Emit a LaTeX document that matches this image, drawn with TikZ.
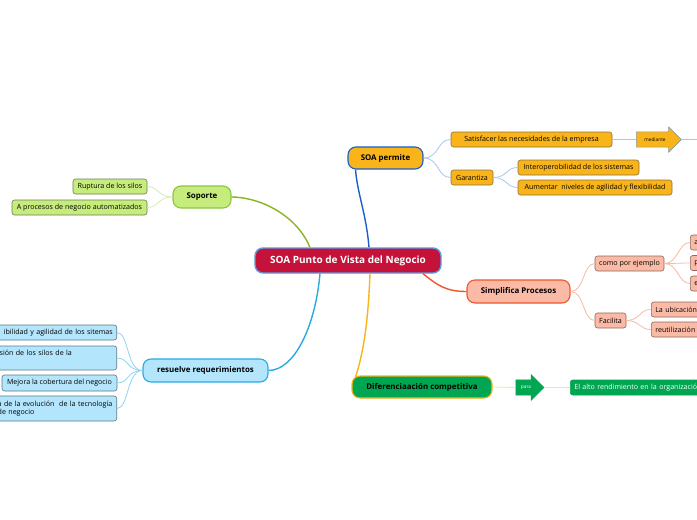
\documentclass[tikz,border=0pt]{standalone}
\usepackage{fontspec}
\setmainfont{Open Sans}
\usetikzlibrary{shapes.arrows}
\definecolor{crim}{HTML}{C5123A}
\definecolor{cblue}{HTML}{5C9BE0}
\definecolor{gold}{HTML}{F8B418}
\definecolor{goldb}{HTML}{8E7440}
\definecolor{dblue}{HTML}{1A5FC8}
\definecolor{sline}{HTML}{A8C6EE}
\definecolor{lgreen}{HTML}{C5EC7C}
\definecolor{greenb}{HTML}{8DC63F}
\definecolor{greensb}{HTML}{6E7E50}
\definecolor{gline}{HTML}{D7EBB0}
\definecolor{olive}{HTML}{8AB51E}
\definecolor{salmon}{HTML}{FABAA6}
\definecolor{orred}{HTML}{F0562A}
\definecolor{salb}{HTML}{8C6A60}
\definecolor{salline}{HTML}{F9B9A3}
\definecolor{green2}{HTML}{00A651}
\definecolor{ltblue}{HTML}{B3E5FC}
\definecolor{skyb}{HTML}{2AAAE2}
\definecolor{skysb}{HTML}{5A7A8A}
\definecolor{skyline}{HTML}{8FD3F4}
\definecolor{goldline}{HTML}{FBE1A0}
\definecolor{arrb}{HTML}{8899AA}
\begin{document}
\begin{tikzpicture}[x=1pt,y=-1pt,
  central/.style={rounded corners=8pt, fill=crim, draw=cblue, line width=1.4pt, text=white,
    font=\fontsize{10}{12}\selectfont\bfseries, inner sep=0pt, minimum width=186pt, minimum height=25pt},
  mainn/.style={rounded corners=8pt, line width=1.1pt, font=\fontsize{7.9}{9.5}\selectfont\bfseries,
    inner sep=0pt, minimum height=22pt},
  subn/.style={rounded corners=2.5pt, line width=0.6pt, font=\fontsize{7.1}{8.4}\selectfont,
    inner sep=0pt, minimum height=15pt},
  cutn/.style={rounded corners=2.5pt, line width=0.6pt, font=\fontsize{7.1}{8.4}\selectfont,
    inner ysep=0pt, inner xsep=4pt, minimum height=15pt},
  branch/.style={line width=1.4pt},
  thin/.style={line width=0.8pt},
  arrn/.style={single arrow, single arrow head extend=5pt, inner xsep=3pt, inner ysep=5.5pt,
    font=\fontsize{4.8}{5}\selectfont, line width=0.6pt}
]
\useasboundingbox (0,0) rectangle (697,520);
\fill[white] (0,0) rectangle (697,520);

% central
\node[central] (c) at (348,260.5) {SOA Punto de Vista del Negocio};

% main nodes
\node[mainn, fill=gold, draw=dblue, minimum width=75pt] (sp) at (385.5,158) {SOA permite};
\node[mainn, fill=lgreen, draw=greenb, minimum width=58pt] (so) at (202,197) {Soporte};
\node[mainn, fill=salmon, draw=orred, minimum width=103pt, minimum height=23pt] (si) at (518.5,291.5) {Simplifica Procesos};
\node[mainn, fill=green2, draw=gold, minimum width=140pt] (di) at (422,387) {Diferenciaación competitiva};
\node[mainn, fill=ltblue, draw=skyb, minimum width=125pt, minimum height=23pt] (re) at (205.5,370.5) {resuelve requerimientos};

% SOA permite children
\node[subn, fill=gold, draw=goldb, minimum width=161pt] (sat) at (531.5,139.5) {Satisfacer las necesidades de la empresa};
\node[subn, fill=gold, draw=goldb, minimum width=42pt] (gar) at (472,177.5) {Garantiza};
\node[subn, fill=gold, draw=goldb, minimum width=121pt] (int) at (578.5,167.5) {Interoperobilidad de los sistemas};
\node[subn, fill=gold, draw=goldb, minimum width=154pt] (aum) at (595,187.5) {Aumentar\ \ niveles de agilidad y flexibilidad};
\node[arrn, fill=gold, draw=arrb, minimum height=45pt] (med) at (655,139.5) {mediante};
\coordinate (medend) at (702,139.5);

% Soporte children
\node[subn, fill=lgreen, draw=greensb, minimum width=74pt] (rup) at (110,186.5) {Ruptura de los silos};
\node[subn, fill=lgreen, draw=greensb, minimum width=135pt] (apr) at (79.5,207.5) {A procesos de negocio automatizados};

% Simplifica children
\node[subn, fill=salmon, draw=salb, minimum width=69pt] (como) at (629.5,263.5) {como por ejemplo};
\node[subn, fill=salmon, draw=salb, minimum width=31pt] (fac) at (610.5,320.5) {Facilita};
\node[cutn, fill=salmon, draw=salb, anchor=west, text width=40pt, align=left] (e1) at (690,242.5) {a};
\node[cutn, fill=salmon, draw=salb, anchor=west, text width=40pt, align=left] (e2) at (690,263) {p};
\node[cutn, fill=salmon, draw=salb, anchor=west, text width=40pt, align=left] (e3) at (690,283.5) {e};
\node[cutn, fill=salmon, draw=salb, anchor=west, text width=70pt, align=left] (ubi) at (651,309.5) {La ubicación};
\node[cutn, fill=salmon, draw=salb, anchor=west, text width=70pt, align=left] (reu) at (651,329.5) {reutilización};

% Diferenciacion children
\node[arrn, fill=green2, draw=green2, text=white, minimum height=28pt] (para) at (526,387.5) {para};
\node[cutn, fill=green2, draw=green2, text=white, anchor=west, text width=140pt, align=left] (alto) at (570,387.5) {El alto rendimiento en la organizació};

% resuelve children
\node[cutn, fill=ltblue, draw=skysb, anchor=east, text width=124pt, align=right] (r1) at (117,332.5) {ibilidad y agilidad de los sitemas};
\node[cutn, fill=ltblue, draw=skysb, anchor=east, text width=113pt, align=left, minimum height=24pt] (r2) at (117,358) {sión de los silos de la\\ \strut};
\node[subn, fill=ltblue, draw=skysb, minimum width=115pt, minimum height=16pt] (r3) at (59.5,383) {Mejora la cobertura del negocio};
\node[cutn, fill=ltblue, draw=skysb, anchor=east, text width=115pt, align=left, minimum height=25pt] (r4) at (117,408.5) {a de la evolución\ \ de la tecnología\\de negocio};

% main branches
\draw[branch, dblue] ([xshift=21pt]c.north) .. controls +(-3,-35) and +(2,25) .. ([xshift=-30pt]sp.south);
\draw[branch, olive] ([xshift=-38pt]c.north) .. controls +(-15,-35) and +(25,0) .. (so.east);
\draw[branch, skyb] ([xshift=-28pt]c.south) .. controls +(-5,55) and +(25,0) .. (re.east);
\draw[branch, gold] ([xshift=22pt]c.south) .. controls +(-2,50) and +(8,-25) .. ([xshift=4pt,yshift=-2pt]di.north west);
\draw[branch, orred] ([xshift=75pt]c.south) .. controls +(15,12) and +(-20,0) .. (si.west);

% SOA permite sub connectors
\draw[thin, sline] (sp.east) .. controls +(16,0) and +(-14,0) .. (sat.west);
\draw[thin, sline] (sp.east) .. controls +(16,0) and +(-14,0) .. (gar.west);
\draw[thin, sline] (gar.east) .. controls +(14,0) and +(-12,0) .. (int.west);
\draw[thin, sline] (gar.east) .. controls +(14,0) and +(-12,0) .. (aum.west);
\draw[thin, sline] (sat.east) -- (med.west);
\draw[thin, sline] (med.east) -- (medend);

% Soporte sub connectors
\draw[thin, gline] (so.west) .. controls +(-15,0) and +(12,0) .. (rup.east);
\draw[thin, gline] (so.west) .. controls +(-15,0) and +(12,0) .. (apr.east);

% Simplifica sub connectors
\draw[thin, salline] (si.east) .. controls +(14,0) and +(-12,0) .. (como.west);
\draw[thin, salline] (si.east) .. controls +(14,0) and +(-12,0) .. (fac.west);
\draw[thin, salline] (como.east) .. controls +(14,0) and +(-12,0) .. (e1.west);
\draw[thin, salline] (como.east) .. controls +(14,0) and +(-12,0) .. (e2.west);
\draw[thin, salline] (como.east) .. controls +(14,0) and +(-12,0) .. (e3.west);
\draw[thin, salline] (fac.east) .. controls +(14,0) and +(-12,0) .. (ubi.west);
\draw[thin, salline] (fac.east) .. controls +(14,0) and +(-12,0) .. (reu.west);

% Diferenciacion sub connectors
\draw[thin, goldline] (di.east) -- (para.west);
\draw[thin, goldline] (para.east) -- (alto.west);

% resuelve sub connectors
\draw[thin, skyline] (re.west) .. controls +(-16,0) and +(12,0) .. (r1.east);
\draw[thin, skyline] (re.west) .. controls +(-16,0) and +(12,0) .. (r2.east);
\draw[thin, skyline] (re.west) .. controls +(-16,0) and +(12,0) .. (r3.east);
\draw[thin, skyline] (re.west) .. controls +(-16,0) and +(12,0) .. (r4.east);
\end{tikzpicture}
\end{document}
